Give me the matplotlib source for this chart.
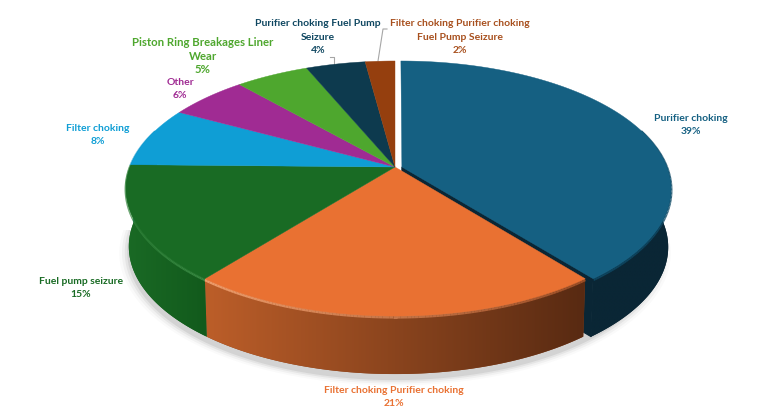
import numpy as np
import matplotlib.pyplot as plt
from matplotlib.collections import LineCollection
from matplotlib.colors import to_rgb
from matplotlib.patches import Polygon

plt.rcParams['font.family'] = ['Lato', 'DejaVu Sans']

categories = ['Purifier choking', 'Filter choking Purifier choking', 'Fuel pump seizure',
              'Filter choking', 'Other', 'Piston Ring Breakages Liner\nWear',
              'Purifier choking Fuel Pump\nSeizure', 'Filter choking Purifier choking\nFuel Pump Seizure']
# printed labels are rounded, these are read from the slice edges
shares = [39.3, 21.4, 14.6, 7.6, 5.6, 5.2, 4.2, 2.1]

top_colors = ['#156082', '#E97132', '#196B24', '#0F9ED5', '#A02B93', '#4EA72E', '#0D3A4E', '#953F0E']
side_left = ['#0A2635', '#BC5E29', '#1A6A25', '#0A6A90', '#6A1C62', '#33701E', '#082838', '#5F280A']
side_right = ['#0A2635', '#582A12', '#125A1C', '#0A6A90', '#6A1C62', '#33701E', '#082838', '#5F280A']
bevel_left = ['#0E4A66', '#F7A878', '#2C7F36', '#0F9ED5', '#A02B93', '#4EA72E', '#0D3A4E', '#953F0E']
bevel_right = ['#0E4A66', '#A8552A', '#3E8F48', '#0F9ED5', '#A02B93', '#4EA72E', '#0D3A4E', '#953F0E']
text_colors = ['#156082', '#E97132', '#196B24', '#0F9ED5', '#A02B93', '#4EA72E', '#0F4761', '#A8501E']
label_pos = [(691, 125), (394, 397), (81, 288), (98, 135), (180, 89), (203, 56), (318, 37), (460, 37)]
label_sizes = [7.45, 7.45, 7.45, 7.45, 7.45, 8.2, 7.45, 7.45]
label_spacing = [1.6, 1.6, 1.6, 1.6, 1.6, 1.25, 1.6, 1.6]

# projection of the tilted disc onto the page
cx, cy = 395, 167
rx, ry, k = 265, 123.9, 0.1688
depth, shrink = 58, 0.99


def project(t, r=1.0, off=(0, 0), scale=1.0, drop=0):
    # t is clockwise from twelve o'clock
    c = np.sin(t) * r + off[0]
    s = np.cos(t) * r + off[1]
    w = 1 + k * s
    return cx + scale * rx * c / w, cy - ry * s / w + drop


fig = plt.figure(figsize=(7.68, 4.15), dpi=100)
ax = fig.add_axes([0, 0, 1, 1])
ax.axis('off')

edges = np.cumsum([0] + shares) / sum(shares) * 2 * np.pi
offsets = [(0.026, 0.0)] + [(0, 0)] * (len(shares) - 1)

# soft shadow below the front half
tt = np.linspace(np.pi / 2, 3 * np.pi / 2, 120)
for grow, alpha in zip([1.035, 1.025, 1.015, 1.006], [0.02, 0.035, 0.05, 0.07]):
    x, y = project(tt, r=grow, scale=shrink, drop=depth + 5)
    ax.add_patch(Polygon(np.column_stack([x, y]), fc='black', ec='none', alpha=alpha, zorder=1))

z = 2
for i in range(len(shares)):
    a, b = edges[i], edges[i + 1]
    off = offsets[i]

    # cut face of the pulled out slice
    if off != (0, 0):
        ax0, ay0 = project(np.array(0.0), r=0, off=off)
        ex, ey = project(np.array(b), off=off)
        ex2, ey2 = project(np.array(b), off=off, scale=shrink, drop=depth)
        ax2, ay2 = project(np.array(0.0), r=0, off=off, scale=shrink, drop=depth)
        ax.add_patch(Polygon([(ax0, ay0), (ex, ey), (ex2, ey2), (ax2, ay2)],
                             fc=side_right[i], ec=side_right[i], lw=0.8, zorder=z + 0.5))

    # only the front of the rim can be seen
    lo, hi = max(a, 0.4 * np.pi), min(b, 1.6 * np.pi)
    if hi <= lo:
        continue

    # rim with a left to right gradient
    t = np.linspace(lo, hi, 120)
    x1, y1 = project(t, off=off)
    x2, y2 = project(t, off=off, scale=shrink, drop=depth)
    rim = np.column_stack([np.r_[x1, x2[::-1]], np.r_[y1, y2[::-1]]])
    c_l, c_r = np.array(to_rgb(side_left[i])), np.array(to_rgb(side_right[i]))
    ax.add_patch(Polygon(rim, fc=(c_l + c_r) / 2, ec='none', zorder=z + 0.1))
    clip = Polygon(rim, transform=ax.transData)
    grad = np.linspace(c_l, c_r, 128)[None, :, :]
    im = ax.imshow(grad, extent=(rim[:, 0].min(), rim[:, 0].max(), rim[:, 1].max(), rim[:, 1].min()),
                   aspect='auto', interpolation='bilinear', zorder=z + 0.2)
    im.set_clip_path(clip)

    # bevel along the top edge of the rim
    fx = (x1 - x1.min()) / max(x1.max() - x1.min(), 1)
    b_l, b_r = np.array(to_rgb(bevel_left[i])), np.array(to_rgb(bevel_right[i]))
    cols = [b_l + (b_r - b_l) * v for v in fx[:-1]]
    segs = [[(x1[j], y1[j] + 1), (x1[j + 1], y1[j + 1] + 1)] for j in range(len(x1) - 1)]
    ax.add_collection(LineCollection(segs, colors=cols, linewidths=2.2, alpha=0.85, zorder=z + 0.3))
    z += 1 if i == 0 else 0

# top faces
for i in range(len(shares)):
    off = offsets[i]
    tr = np.linspace(edges[i], edges[i + 1], 120)
    xr, yr = project(tr, off=off)
    ax0, ay0 = project(np.array(0.0), r=0, off=off)
    pts = np.column_stack([np.r_[ax0, xr], np.r_[ay0, yr]])
    ax.add_patch(Polygon(pts, fc=top_colors[i], ec=top_colors[i], lw=0.3, zorder=10))

# labels
for i in range(len(shares)):
    ax.text(label_pos[i][0], label_pos[i][1], '%s\n%d%%' % (categories[i], round(shares[i])),
            color=text_colors[i], fontsize=label_sizes[i], fontweight='bold', ha='center', va='center',
            linespacing=label_spacing[i], zorder=20)

# leader lines for the two small slices
ax.plot([330, 334, 334], [57, 57, 64], color='#A6A6A6', lw=0.8, zorder=9)
ax.plot([387, 383, 378], [29, 29, 61], color='#A6A6A6', lw=0.8, zorder=9)

ax.set_xlim(0, 768)
ax.set_ylim(415, 0)

fig.savefig('out.png', dpi=100)
